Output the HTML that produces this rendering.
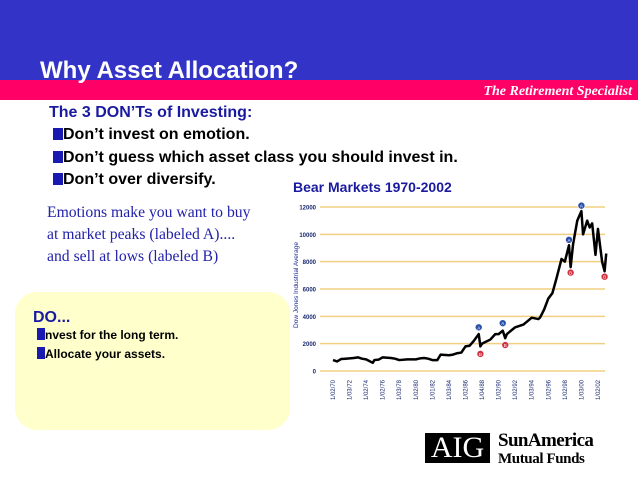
<!DOCTYPE html>
<html><head><meta charset="utf-8"><style>
body{margin:0;width:638px;height:478px;overflow:hidden;background:#fff;position:relative;font-family:"Liberation Sans",sans-serif}
.a{position:absolute;white-space:nowrap}
.bul{display:inline-block;width:10px;height:12px;background:#1a1ab0;vertical-align:-1px}
</style></head><body>
<div class="a" style="left:0;top:0;width:638px;height:80px;background:#3333c8"></div>
<div class="a" style="left:0;top:80px;width:638px;height:20px;background:#ff0066"></div>
<div class="a" style="left:40px;top:57px;font-size:24px;font-weight:bold;color:#fff">Why Asset Allocation?</div>
<div class="a" style="right:6px;top:84px;font:italic bold 14px 'Liberation Serif',serif;color:#fff">The Retirement Specialist</div>
<div class="a" style="left:49px;top:104px;font-size:16px;font-weight:bold;color:#1a1aa0">The 3 DON’Ts of Investing:</div>
<div class="a" style="left:53px;top:126px;font-size:16px;font-weight:bold"><span class="bul"></span>Don’t invest on emotion.</div>
<div class="a" style="left:53px;top:149px;font-size:16px;font-weight:bold"><span class="bul"></span>Don’t guess which asset class you should invest in.</div>
<div class="a" style="left:53px;top:171px;font-size:16px;font-weight:bold"><span class="bul"></span>Don’t over diversify.</div>
<div class="a" style="left:47px;top:202px;font:15.7px/22px 'Liberation Serif',serif;color:#2222aa">Emotions make you want to buy<br>at market peaks (labeled A)....<br>and sell at lows (labeled B)</div>
<div class="a" style="left:15px;top:292px;width:275px;height:138px;background:#ffffcc;border-radius:22px"></div>
<div class="a" style="left:33px;top:309px;font-size:16px;font-weight:bold;color:#1a1aa0">DO...</div>
<div class="a" style="left:37px;top:328px;font-size:12px;font-weight:bold"><span class="bul" style="width:8px"></span>nvest for the long term.</div>
<div class="a" style="left:37px;top:347px;font-size:12px;font-weight:bold"><span class="bul" style="width:8px"></span>Allocate your assets.</div>
<div class="a" style="left:293px;top:179px;font-size:14px;font-weight:bold;color:#1a1aa0">Bear Markets 1970-2002</div>
<svg class="a" style="left:0;top:0" width="638" height="478" id="ch"></svg>
<div class="a" style="left:425px;top:433px;width:65px;height:30px;background:#000;color:#fff;font:30px/30px 'Liberation Serif',serif;text-align:center">AIG</div>
<div class="a" style="left:498px;top:432px;font:bold 19px/17px 'Liberation Serif',serif;letter-spacing:-0.6px">SunAmerica<br><span style="font-size:15px;letter-spacing:-0.4px">Mutual Funds</span></div>
<script>
const years=[1970,1970.5,1971,1971.5,1972,1972.5,1973,1973.5,1974,1974.8,1975,1975.5,1976,1977,1977.5,1978,1979,1980,1980.5,1981,1981.5,1982,1982.6,1983,1984,1984.5,1985,1985.5,1986,1986.5,1987,1987.6,1987.8,1988,1989,1989.6,1990,1990.5,1990.8,1991,1992,1993,1994,1994.8,1995,1995.5,1996,1996.5,1997,1997.6,1998,1998.5,1998.7,1999,1999.5,2000,2000.2,2000.7,2001,2001.3,2001.7,2002,2002.5,2002.8,2003];
const values=[800,700,880,900,920,950,1000,900,850,600,800,830,1000,950,900,800,850,850,920,950,900,800,800,1200,1150,1200,1300,1350,1800,1850,2200,2700,1800,2000,2300,2700,2700,2950,2400,2700,3200,3400,3900,3800,3900,4500,5300,5700,6800,8200,8000,9200,7600,9300,11000,11700,10000,11000,10500,10800,8500,10400,8000,7300,8600];
const yTicks=[0,2000,4000,6000,8000,10000,12000];
const xTickYears=[1970,1972,1974,1976,1978,1980,1982,1984,1986,1988,1990,1992,1994,1996,1998,2000,2002];
const xTickLabels=["1/02/70","1/03/72","1/02/74","1/02/76","1/03/78","1/02/80","1/01/82","1/03/84","1/02/86","1/04/88","1/02/90","1/02/92","1/03/94","1/02/96","1/02/98","1/03/00","1/02/02"];
const peakYears=[1987.6,1990.5,1998.5,2000];
const peakValues=[3200,3500,9600,12100];
const lowYears=[1987.8,1990.8,1998.7,2002.8];
const lowValues=[1250,1900,7200,6900];
const X=y=>333+(y-1970)*8.28;
const Y=v=>371-v*(164/12000);
const svg=document.getElementById('ch');const NS='http://www.w3.org/2000/svg';
function mk(t,a){const e=document.createElementNS(NS,t);for(const k in a)e.setAttribute(k,a[k]);svg.appendChild(e);return e;}
yTicks.forEach(v=>{
 const g=mk('line',{x1:320,x2:605,y1:Y(v),y2:Y(v),stroke:'#f0d080','stroke-width':1.5});
 
 
 const t=mk('text',{x:316,y:Y(v)+2.5,'text-anchor':'end','font-size':6,'font-weight':'bold',fill:'#1a2a70','font-family':'Liberation Sans'});
 t.textContent=v;
 
 
});
xTickYears.forEach((yr,i)=>{
 const x=X(yr);
 const t=mk('text',{x:0,y:0,transform:`translate(${x+2},380) rotate(-90)`,'text-anchor':'end','font-size':6,fill:'#1a2a70','font-family':'Liberation Sans'});
 t.textContent=xTickLabels[i];
 
 
});
const yt=mk('text',{x:0,y:0,transform:'translate(298,285) rotate(-90)','text-anchor':'middle','font-size':6.5,fill:'#1a2a90','font-family':'Liberation Sans'});
yt.textContent='Dow Jones Industrial Average';


const ln=mk('polyline',{points:years.map((y,i)=>X(y)+','+Y(values[i])).join(' '),fill:'none',stroke:'#000','stroke-width':2.5,'stroke-linejoin':'round'});


function marker(yr,v,col,lab,name){
 const c=mk('circle',{cx:X(yr),cy:Y(v),r:3.5,fill:col,stroke:'#fff','stroke-width':0.6});
 
 
 const t=mk('text',{x:X(yr),y:Y(v)+2,'text-anchor':'middle','font-size':4.5,fill:'#fff','font-family':'Liberation Sans'});
 t.textContent=lab;
}
peakYears.forEach((y,i)=>marker(y,peakValues[i],'#2a50a8','A','peak-marker'));
lowYears.forEach((y,i)=>marker(y,lowValues[i],'#d03040','B','low-marker'));
</script>
</body></html>
